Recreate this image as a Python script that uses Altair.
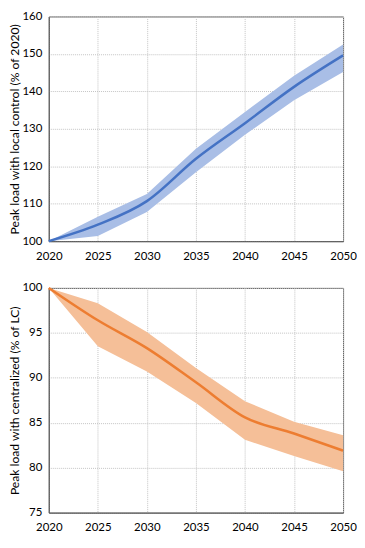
import altair as alt
import pandas as pd

years = [2020, 2025, 2030, 2035, 2040, 2045, 2050]

local_mid = [100, 104.4, 110.7, 122.0, 131.5, 141.2, 149.6]
local_lo = [100, 101.4, 107.8, 118.4, 128.4, 137.6, 145.2]
local_hi = [100, 106.5, 112.6, 124.7, 134.5, 144.2, 152.5]

central_mid = [100, 96.4, 93.3, 89.5, 85.6, 83.8, 81.9]
central_lo = [100, 93.5, 90.7, 87.2, 83.1, 81.3, 79.6]
central_hi = [100, 98.3, 95.1, 91.1, 87.4, 85.1, 83.6]

x_ticks = [2020, 2025, 2030, 2035, 2040, 2045, 2050]
top_ticks = [100, 110, 120, 130, 140, 150, 160]
bot_ticks = [75, 80, 85, 90, 95, 100]

FONT = "Lato"
W, H = 296, 226

df_top = pd.DataFrame({"year": years, "mid": local_mid, "lo": local_lo, "hi": local_hi})
df_bot = pd.DataFrame({"year": years, "mid": central_mid, "lo": central_lo, "hi": central_hi})


def panel(df, domain, ticks, title, band_color, line_color):
    xs = alt.Scale(domain=[2020, 2050], nice=False)
    ys = alt.Scale(domain=domain, nice=False, zero=False)
    xa = alt.Axis(values=x_ticks, format="d", title=None, labelFlush=False, labelOverlap=False)
    ya = alt.Axis(values=ticks, title=title, labelOverlap=False)
    band = alt.Chart(df).mark_area(color=band_color, opacity=1).encode(
        x=alt.X("year:Q", scale=xs, axis=xa),
        y=alt.Y("lo:Q", scale=ys, axis=ya),
        y2="hi:Q",
    )
    line = alt.Chart(df).mark_line(color=line_color, strokeWidth=2.5, interpolate="monotone").encode(
        x=alt.X("year:Q", scale=xs, axis=xa),
        y=alt.Y("mid:Q", scale=ys, axis=ya),
    )
    return alt.layer(band, line).properties(width=W, height=H)


top = panel(df_top, [100, 160], top_ticks, "Peak load with local control (% of 2020)", "#A9BEE6", "#4472C4")
bot = panel(df_bot, [75, 100], bot_ticks, "Peak load with centralized (% of LC)", "#F5BF98", "#ED7D31")

chart = alt.vconcat(top, bot, spacing=19).properties(
    padding=0
).configure_view(
    stroke="#595959", strokeWidth=1
).configure_axis(
    labelFont=FONT, titleFont=FONT, labelFontSize=11.5, titleFontSize=12.2,
    labelColor="#000000", titleColor="#000000", titleFontWeight="normal",
    domainColor="#595959", ticks=False, labelOverlap=False,
    gridColor="#C4C4C4", gridDash=[1, 1], gridWidth=1,
).configure_axisX(
    labelPadding=9,
).configure_axisY(
    labelPadding=7, titlePadding=0,
)

chart.save("out.html", embed_options={"renderer": "svg", "actions": False})
